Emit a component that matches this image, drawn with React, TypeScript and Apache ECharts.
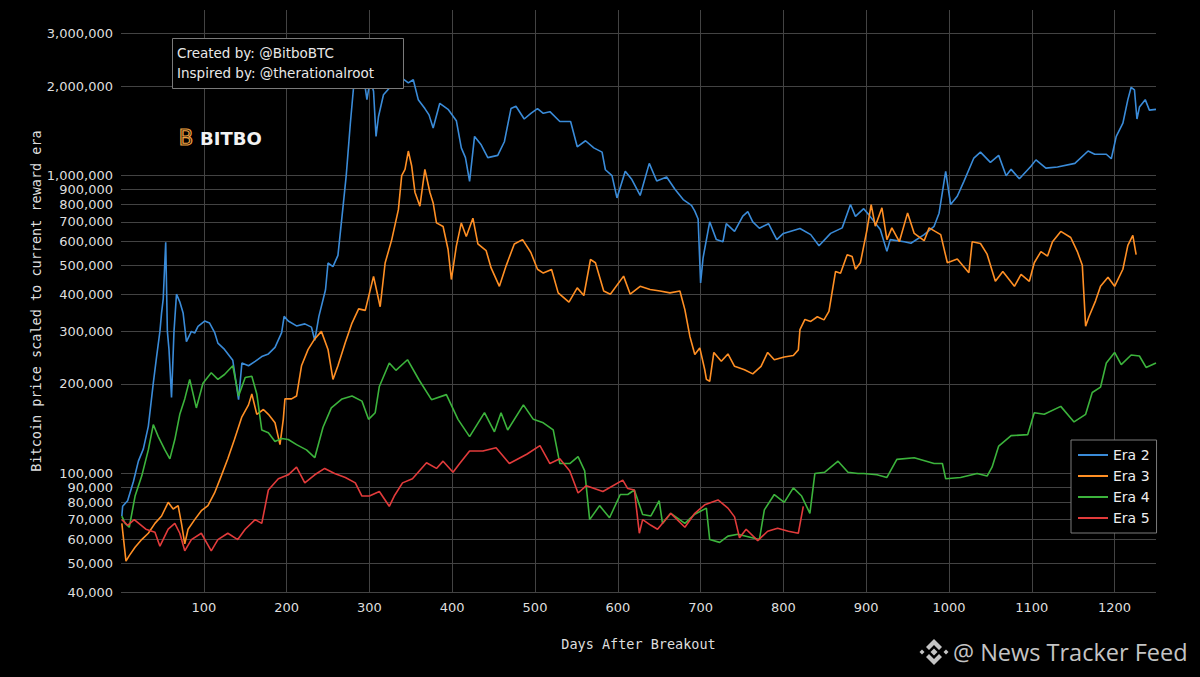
import React, { useEffect, useRef } from 'react';
import * as echarts from 'echarts';

const seriesNames = ['Era 2', 'Era 3', 'Era 4', 'Era 5'];
const seriesColors = ['#3a8bd8', '#ff8f24', '#3cb33c', '#e23b3b'];

const xTicks = [100, 200, 300, 400, 500, 600, 700, 800, 900, 1000, 1100, 1200];
const yTicks = [40000, 50000, 60000, 70000, 80000, 90000, 100000, 200000, 300000, 400000, 500000, 600000, 700000, 800000, 900000, 1000000, 2000000, 3000000];
const X_MIN = 0;
const X_MAX = 1250;
const Y_MIN = 40000;
const Y_MAX = 3600000;

const era2Days = [1, 2, 8, 15, 21, 27, 33, 39, 43, 47, 49, 51, 54, 56, 58, 61, 64, 67, 71, 75, 79, 85, 89, 93, 101, 107, 113, 117, 125, 135, 142, 146, 154, 162, 170, 178, 186, 194, 197, 202, 212, 222, 230, 234, 239, 247, 250, 256, 262, 268, 272, 277, 281, 285, 290, 295, 297, 301, 305, 308, 311, 317, 325, 332, 339, 347, 353, 359, 367, 372, 377, 385, 395, 405, 411, 416, 421, 427, 435, 443, 455, 463, 471, 477, 487, 495, 503, 510, 518, 530, 543, 551, 561, 571, 581, 585, 593, 599, 609, 617, 627, 638, 647, 659, 669, 679, 689, 693, 697, 700, 703, 711, 719, 727, 731, 741, 751, 757, 763, 771, 782, 792, 800, 812, 820, 833, 843, 857, 871, 881, 887, 897, 903, 917, 925, 929, 946, 954, 970, 982, 988, 996, 1002, 1010, 1018, 1030, 1038, 1050, 1060, 1069, 1075, 1085, 1099, 1105, 1117, 1131, 1152, 1168, 1176, 1190, 1196, 1202, 1210, 1216, 1220, 1224, 1227, 1230, 1237, 1242, 1250];
const era2Values = [72000, 77600, 81000, 94000, 110000, 121000, 144000, 201000, 247000, 300000, 346000, 386000, 598000, 300000, 260000, 180000, 300000, 400000, 377000, 346000, 277000, 300000, 296000, 312000, 325000, 320000, 298000, 274000, 261000, 240000, 177000, 235000, 230000, 238000, 247000, 252000, 265000, 297000, 337000, 325000, 313000, 318000, 310000, 280000, 337000, 414000, 509000, 495000, 540000, 780000, 1000000, 1500000, 2000000, 2300000, 2250000, 1970000, 1800000, 2100000, 1920000, 1355000, 1580000, 1870000, 1980000, 2150000, 2130000, 2050000, 2100000, 1800000, 1680000, 1600000, 1445000, 1750000, 1670000, 1530000, 1240000, 1150000, 957000, 1355000, 1270000, 1150000, 1170000, 1300000, 1680000, 1710000, 1550000, 1620000, 1680000, 1620000, 1640000, 1520000, 1520000, 1250000, 1310000, 1240000, 1200000, 1047000, 1000000, 842000, 1035000, 970000, 858000, 1100000, 960000, 990000, 900000, 831000, 795000, 760000, 715000, 436000, 530000, 700000, 610000, 600000, 690000, 650000, 731000, 757000, 700000, 666000, 690000, 610000, 640000, 655000, 665000, 634000, 582000, 640000, 668000, 800000, 730000, 775000, 740000, 660000, 557000, 610000, 600000, 593000, 634000, 676000, 748000, 1034000, 800000, 853000, 957000, 1146000, 1200000, 1108000, 1170000, 1000000, 1050000, 976000, 1075000, 1130000, 1060000, 1070000, 1100000, 1210000, 1180000, 1180000, 1140000, 1355000, 1500000, 1800000, 1980000, 1940000, 1550000, 1700000, 1800000, 1660000, 1670000];

const era3Days = [1, 6, 10, 17, 25, 33, 41, 49, 57, 63, 69, 73, 77, 81, 89, 97, 105, 113, 121, 129, 137, 146, 154, 158, 164, 172, 178, 186, 192, 196, 198, 206, 212, 218, 226, 234, 242, 250, 256, 262, 271, 279, 287, 295, 305, 313, 319, 327, 335, 339, 343, 347, 351, 355, 361, 367, 373, 377, 381, 389, 395, 399, 405, 411, 417, 425, 431, 441, 447, 457, 465, 475, 485, 495, 503, 510, 520, 528, 541, 551, 559, 567, 573, 583, 591, 607, 615, 627, 639, 651, 663, 675, 681, 687, 693, 699, 705, 707, 711, 716, 725, 733, 741, 753, 763, 773, 781, 789, 801, 812, 818, 820, 826, 833, 841, 849, 855, 863, 869, 877, 883, 887, 893, 901, 906, 911, 919, 925, 931, 940, 950, 958, 970, 976, 990, 998, 1010, 1024, 1028, 1038, 1046, 1056, 1065, 1079, 1087, 1097, 1103, 1111, 1119, 1125, 1135, 1147, 1155, 1161, 1165, 1169, 1177, 1183, 1192, 1200, 1210, 1216, 1222, 1226];
const era3Values = [68000, 50800, 53000, 56500, 60000, 63000, 68000, 72000, 80000, 76000, 78000, 68000, 58000, 65000, 70000, 75000, 78000, 86000, 98000, 112000, 130000, 155000, 170000, 185000, 158000, 164000, 158000, 148000, 125000, 152000, 178000, 178000, 182000, 230000, 261000, 283000, 300000, 261000, 207000, 230000, 276000, 320000, 357000, 353000, 459000, 363000, 509000, 610000, 769000, 1000000, 1050000, 1210000, 1080000, 880000, 790000, 1050000, 880000, 810000, 694000, 675000, 565000, 448000, 580000, 694000, 625000, 720000, 590000, 560000, 490000, 425000, 497000, 590000, 610000, 552000, 485000, 471000, 484000, 404000, 376000, 420000, 396000, 523000, 510000, 410000, 400000, 460000, 400000, 425000, 415000, 410000, 404000, 410000, 355000, 289000, 251000, 264000, 223000, 207000, 204000, 255000, 238000, 252000, 229000, 223000, 216000, 229000, 255000, 241000, 246000, 249000, 260000, 304000, 329000, 324000, 336000, 328000, 350000, 477000, 470000, 543000, 535000, 485000, 510000, 659000, 800000, 677000, 780000, 610000, 668000, 600000, 750000, 640000, 605000, 668000, 634000, 510000, 525000, 472000, 600000, 592000, 545000, 442000, 477000, 425000, 466000, 442000, 510000, 556000, 537000, 600000, 650000, 620000, 556000, 500000, 312000, 336000, 380000, 425000, 456000, 425000, 485000, 583000, 630000, 543000];

const era4Days = [1, 5, 10, 17, 25, 33, 39, 45, 53, 59, 65, 71, 77, 83, 91, 99, 109, 117, 125, 135, 142, 150, 158, 164, 170, 178, 186, 194, 202, 212, 224, 234, 244, 254, 267, 279, 291, 299, 307, 312, 324, 332, 346, 360, 375, 393, 407, 421, 439, 451, 459, 467, 486, 498, 510, 522, 530, 542, 552, 560, 566, 578, 590, 603, 612, 620, 630, 640, 650, 654, 664, 681, 693, 707, 711, 723, 733, 745, 761, 771, 777, 789, 801, 812, 822, 832, 838, 850, 866, 878, 890, 897, 913, 925, 937, 958, 982, 992, 996, 1014, 1034, 1046, 1052, 1060, 1075, 1095, 1103, 1115, 1135, 1151, 1165, 1173, 1183, 1190, 1200, 1208, 1220, 1230, 1238, 1250];
const era4Values = [71900, 68000, 66000, 84000, 98000, 120000, 146000, 133000, 120000, 112000, 130000, 158000, 178000, 207000, 166000, 201000, 218000, 207000, 215000, 230000, 182000, 210000, 212000, 185000, 140000, 137000, 128000, 131000, 130000, 125000, 120000, 113000, 143000, 166000, 178000, 182000, 175000, 152000, 160000, 196000, 235000, 222000, 241000, 206000, 177000, 184000, 152000, 133000, 160000, 138000, 160000, 140000, 170000, 152000, 148000, 140000, 108000, 108000, 114000, 102000, 70000, 78000, 71000, 85000, 85000, 88000, 72800, 72000, 81000, 68000, 73500, 68000, 73000, 76500, 60000, 58700, 61600, 62500, 61000, 60000, 75500, 85000, 80000, 89500, 84000, 73500, 100000, 101000, 110000, 101000, 100000, 100000, 99000, 97000, 111500, 113000, 108000, 108000, 96000, 97000, 100000, 98000, 105000, 123600, 134000, 135000, 160000, 158000, 168000, 149000, 158000, 187000, 195000, 235000, 255000, 232000, 250000, 248000, 227000, 235000];

const era5Days = [1, 8, 16, 30, 41, 47, 57, 65, 71, 77, 85, 97, 109, 117, 129, 141, 150, 162, 170, 178, 190, 202, 212, 222, 234, 246, 258, 271, 283, 291, 300, 312, 324, 330, 340, 352, 369, 381, 389, 401, 409, 421, 437, 453, 469, 490, 506, 518, 530, 542, 552, 562, 582, 606, 612, 620, 626, 630, 640, 648, 664, 681, 693, 705, 721, 733, 741, 747, 755, 769, 781, 793, 806, 818, 824];
const era5Values = [70000, 67000, 70000, 65000, 63500, 57000, 65000, 68000, 63000, 55000, 60000, 63000, 55000, 60000, 63000, 60000, 65000, 70000, 68000, 88000, 96000, 99000, 105000, 93000, 99000, 104000, 100000, 97000, 93000, 84000, 84000, 87000, 77600, 84000, 93000, 96000, 108600, 104000, 110000, 101000, 108000, 119000, 119000, 122000, 108000, 116000, 124000, 108000, 112000, 102000, 86000, 91000, 87000, 95000, 89000, 88000, 63000, 70000, 67000, 65000, 73500, 66000, 73500, 78500, 81500, 76500, 71500, 60800, 65000, 59500, 64000, 65500, 64000, 63000, 77500];

const allDays = [era2Days, era3Days, era4Days, era5Days];
const allValues = [era2Values, era3Values, era4Values, era5Values];

const fmt = (n: number) => Math.round(n).toLocaleString('en-US');

export default function App() {
  const ref = useRef<HTMLDivElement>(null);

  useEffect(() => {
    if (!ref.current) return;
    const chart = echarts.init(ref.current, null, { renderer: 'svg' });
    const gridColor = '#434343';
    const labelColor = '#dedede';

    const series = seriesNames.map((name, i) => ({
      name,
      type: 'line',
      yAxisIndex: 0,
      showSymbol: false,
      symbol: 'none',
      data: allDays[i].map((d, j) => [d, allValues[i][j]]),
      lineStyle: { color: seriesColors[i], width: 1.6 },
      itemStyle: { color: seriesColors[i] },
      z: 3,
    }));

    const option: any = {
      animation: false,
      backgroundColor: '#000',
      grid: { left: 121, right: 44, top: 10, bottom: 85 },
      legend: {
        orient: 'vertical',
        left: 1071,
        top: 440,
        data: seriesNames,
        itemWidth: 30,
        itemHeight: 14,
        itemGap: 7,
        padding: [8, 7, 8, 6],
        backgroundColor: '#000',
        borderColor: '#7a7a7a',
        borderWidth: 1,
        borderRadius: 0,
        itemStyle: { opacity: 0 },
        lineStyle: { width: 2 },
        textStyle: { color: '#eeeeee', fontSize: 14, fontFamily: 'DejaVu Sans' },
      },
      xAxis: {
        type: 'value',
        min: X_MIN,
        max: X_MAX,
        name: 'Days After Breakout',
        nameLocation: 'middle',
        nameGap: 45,
        nameTextStyle: { color: labelColor, fontSize: 13.5, fontFamily: 'DejaVu Sans Mono' },
        axisLine: { show: false },
        axisTick: { show: false, customValues: xTicks },
        axisLabel: {
          customValues: xTicks,
          formatter: (v: number) => String(Math.round(v)),
          color: labelColor,
          fontSize: 13,
          fontFamily: 'DejaVu Sans',
          margin: 9,
        },
        splitLine: { show: true, lineStyle: { color: gridColor, width: 1 } },
      },
      yAxis: [
        {
          type: 'log',
          min: Y_MIN,
          max: Y_MAX,
          show: false,
          splitLine: { show: false },
        },
        {
          type: 'value',
          min: Math.log10(Y_MIN),
          max: Math.log10(Y_MAX),
          position: 'left',
          name: 'Bitcoin price scaled to current reward era',
          nameLocation: 'middle',
          nameGap: 78,
          nameMoveOverlap: false,
          nameTextStyle: { color: labelColor, fontSize: 13.5, fontFamily: 'DejaVu Sans Mono' },
          axisLine: { show: false },
          axisTick: { show: false, customValues: yTicks.map((v) => Math.log10(v)) },
          axisLabel: {
            customValues: yTicks.map((v) => Math.log10(v)),
            formatter: (v: number) => fmt(Math.pow(10, v)),
            color: labelColor,
            fontSize: 13,
            fontFamily: 'DejaVu Sans',
            margin: 8,
          },
          splitLine: { show: true, lineStyle: { color: gridColor, width: 1 } },
        },
      ],
      series,
      graphic: [
        {
          type: 'rect',
          z: 100,
          shape: { x: 172.5, y: 38.5, width: 231, height: 50 },
          style: { fill: '#000', stroke: '#7a7a7a', lineWidth: 1 },
        },
        {
          type: 'text',
          z: 101,
          x: 177,
          y: 53,
          style: { text: 'Created by: @BitboBTC', fill: '#e8e8e8', fontSize: 13.5, fontFamily: 'DejaVu Sans', verticalAlign: 'middle' },
        },
        {
          type: 'text',
          z: 101,
          x: 177,
          y: 73,
          style: { text: 'Inspired by: @therationalroot', fill: '#e8e8e8', fontSize: 13.5, fontFamily: 'DejaVu Sans', verticalAlign: 'middle' },
        },
        {
          type: 'text',
          z: 101,
          x: 186,
          y: 138,
          style: { text: 'B', fill: 'none', stroke: '#f0a040', lineWidth: 1.2, fontSize: 21, fontFamily: 'DejaVu Sans', align: 'center', verticalAlign: 'middle' },
        },
        {
          type: 'text',
          z: 101,
          x: 200,
          y: 138,
          style: { text: 'BITBO', fill: '#f2f2f2', fontSize: 18, fontWeight: 'bold', fontFamily: 'DejaVu Sans', verticalAlign: 'middle' },
        },
        {
          type: 'group',
          z: 101,
          children: [
            { type: 'polygon', shape: { points: [[934, 639], [942, 647], [939, 650], [934, 645], [929, 650], [926, 647]] }, style: { fill: '#c4c4c4' } },
            { type: 'polygon', shape: { points: [[934, 665], [942, 657], [939, 654], [934, 659], [929, 654], [926, 657]] }, style: { fill: '#c4c4c4' } },
            { type: 'polygon', shape: { points: [[934, 648.5], [937.5, 652], [934, 655.5], [930.5, 652]] }, style: { fill: '#c4c4c4' } },
            { type: 'polygon', shape: { points: [[922, 649.5], [924.5, 652], [922, 654.5], [919.5, 652]] }, style: { fill: '#c4c4c4' } },
            { type: 'polygon', shape: { points: [[946, 649.5], [948.5, 652], [946, 654.5], [943.5, 652]] }, style: { fill: '#c4c4c4' } },
          ],
        },
        {
          type: 'text',
          z: 101,
          x: 953,
          y: 652,
          style: { text: '@ News Tracker Feed', fill: '#c4c4c4', fontSize: 23.5, fontFamily: 'Open Sans', verticalAlign: 'middle' },
        },
      ],
    };
    chart.setOption(option);
    return () => chart.dispose();
  }, []);

  return (
    <div style={{ position: 'fixed', left: 0, top: 0, width: 1200, height: 677, background: '#000' }}>
      <div ref={ref} style={{ width: 1200, height: 677 }} />
    </div>
  );
}
